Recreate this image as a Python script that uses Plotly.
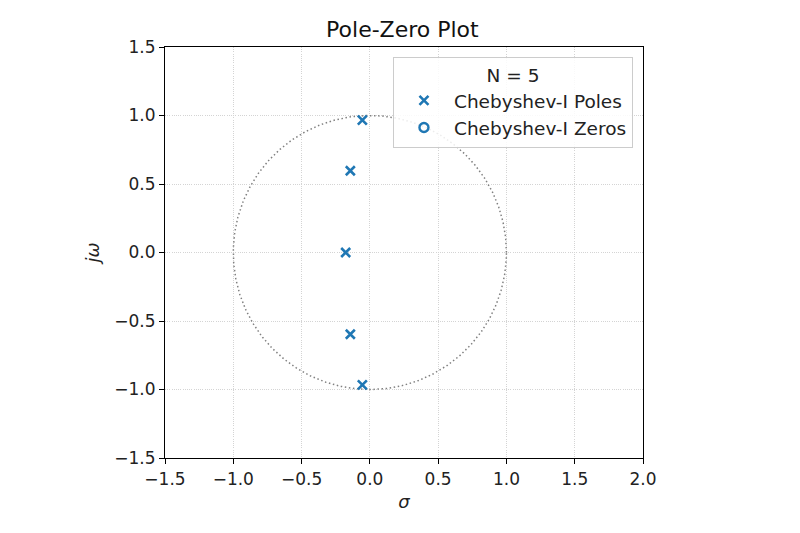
import plotly.graph_objects as go
import numpy as np

# Data
pole_re = [-0.055, -0.143, -0.177, -0.143, -0.055]
pole_im = [0.966, 0.597, 0.0, -0.597, -0.966]
zero_re = []
zero_im = []
unit_radius = 1.0
order_label = "N = 5"

x_ticks = [-1.5, -1.0, -0.5, 0.0, 0.5, 1.0, 1.5, 2.0]
y_ticks = [-1.5, -1.0, -0.5, 0.0, 0.5, 1.0, 1.5]

blue = "#1f77b4"
font = "DejaVu Sans"

fig = go.Figure()

theta = np.linspace(0, 2 * np.pi, 600)
fig.add_trace(go.Scatter(
    x=unit_radius * np.cos(theta), y=unit_radius * np.sin(theta),
    mode="lines", line=dict(color="#808080", width=1.5, dash="1.5px,2.6px"),
    showlegend=False, hoverinfo="skip"))

fig.add_trace(go.Scatter(
    x=pole_re, y=pole_im, mode="markers", name="Chebyshev-I Poles",
    marker=dict(symbol="x-thin-open", size=9, color=blue,
                line=dict(color=blue, width=2.6))))

fig.add_trace(go.Scatter(
    x=zero_re if zero_re else [None], y=zero_im if zero_im else [None],
    mode="markers", name="Chebyshev-I Zeros",
    marker=dict(symbol="circle-open", size=9, color=blue,
                line=dict(color=blue, width=2.4))))

axis_common = dict(
    showline=True, mirror=True, linecolor="black", linewidth=1.2,
    ticks="outside", ticklen=5, tickwidth=1.2, tickcolor="black",
    showgrid=True, gridcolor="#d4d4d4", griddash="1px,1.2px", gridwidth=1,
    zeroline=False, tickformat=".1f",
    tickfont=dict(family=font, size=17, color="#222"),
)

fig.update_xaxes(range=[-1.5, 2.0], tickvals=x_ticks,
                 title=dict(text="<i>σ</i>", font=dict(family=font, size=18, color="#222"), standoff=7),
                 **axis_common)
fig.update_yaxes(range=[-1.5, 1.5], tickvals=y_ticks,
                 title=dict(text="<i>jω</i>", font=dict(family=font, size=18, color="#222"), standoff=9),
                 **axis_common)

fig.update_layout(
    width=800, height=533,
    margin=dict(l=164.5, r=157, t=47.3, b=75.3),
    paper_bgcolor="white", plot_bgcolor="white",
    font=dict(family=font, size=17, color="#222"),
    title=dict(text="Pole-Zero Plot", x=0.503, xanchor="center", y=0.945, yanchor="middle",
               font=dict(family=font, size=22, color="#111")),
    legend=dict(
        x=0.979, y=0.976, xanchor="right", yanchor="top",
        bgcolor="rgba(255,255,255,0.85)", bordercolor="#cccccc", borderwidth=1,
        font=dict(family=font, size=18.5, color="#222"),
        title=dict(text=order_label, side="top center", font=dict(family=font, size=18.5, color="#222")),
        itemwidth=50, tracegroupgap=0,
    ),
)

fig.write_html("out.html")
